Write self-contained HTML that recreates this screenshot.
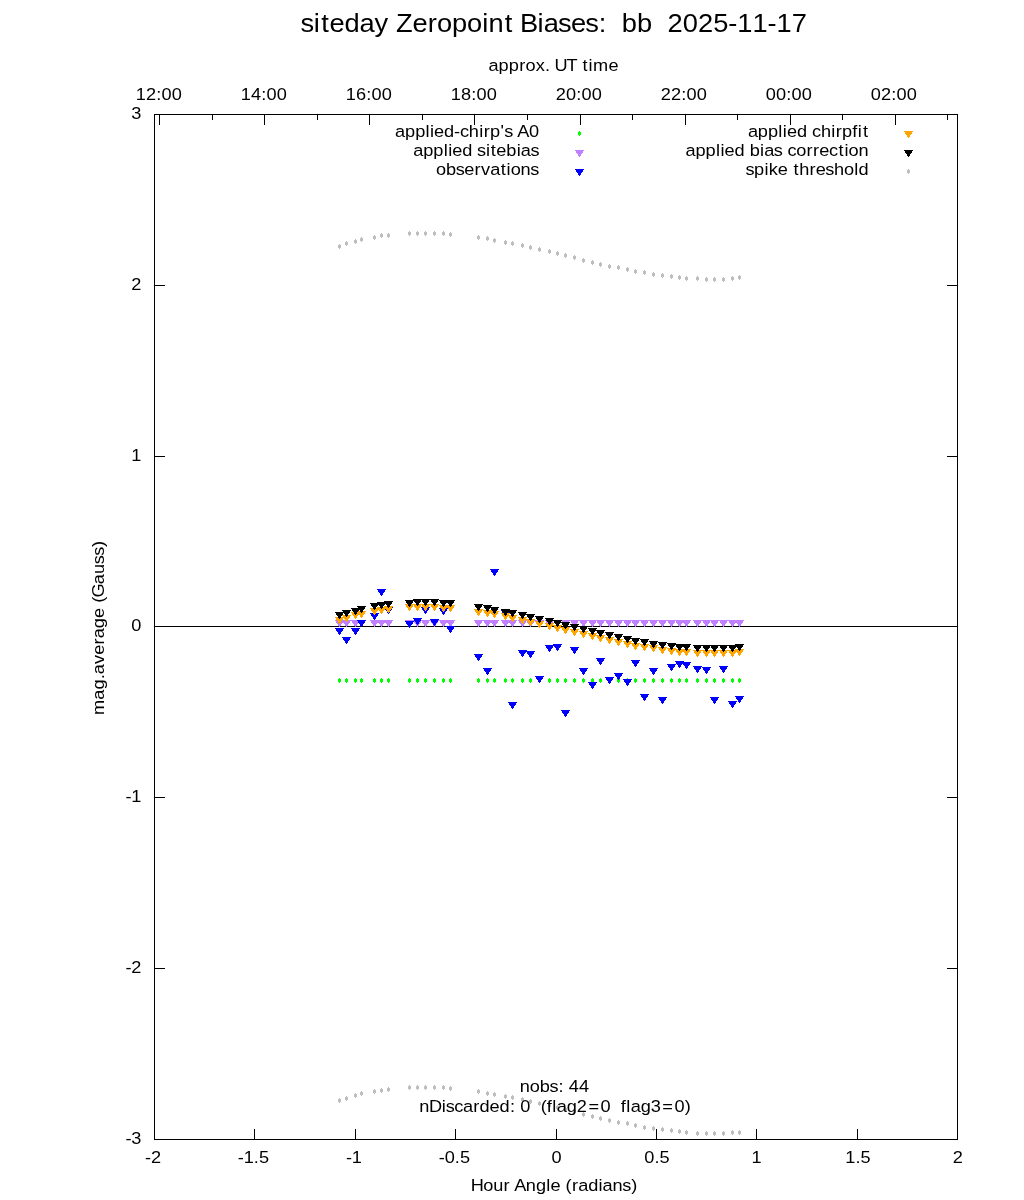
<!DOCTYPE html><html><head><meta charset="utf-8"><title>siteday Zeropoint Biases</title><style>html,body{margin:0;padding:0;background:#fff;width:1024px;height:1200px;overflow:hidden}svg{display:block;will-change:transform}text{font-family:"Liberation Sans",sans-serif;fill:#000}</style></head><body><svg width="1024" height="1200" viewBox="0 0 1024 1200"><defs><path id="t" d="M-4 0h9v1h-1v2h-1v1h-1v2h-1v1h-1v-1h-1v-2h-1v-1h-1v-2h-1z"/><path id="d" d="M-1 1h3v3h-3z M0 0h1v5h-1z"/></defs><rect width="1024" height="1200" fill="#fff"/><g shape-rendering="crispEdges" fill="none" stroke="#000" stroke-width="1"><path d="M155 626.5H957"/><path d="M154.5 114.5H957.5V1139.5H154.5Z"/><path d="M155 285.5h10M957 285.5h-10M155 456.5h10M957 456.5h-10M155 797.5h10M957 797.5h-10M155 968.5h10M957 968.5h-10M254.5 1139v-10M355.5 1139v-10M455.5 1139v-10M556.5 1139v-10M656.5 1139v-10M756.5 1139v-10M857.5 1139v-10M159.5 115v10M264.5 115v10M369.5 115v10M474.5 115v10M580.5 115v10M685.5 115v10M790.5 115v10M895.5 115v10M212.5 115v5M317.5 115v5M422.5 115v5M527.5 115v5M632.5 115v5M737.5 115v5M842.5 115v5M947.5 115v5"/></g><g><text x="-0.53 11.96 18.78 26.52 40.54 54.53 68.75 81.78 88.78 104.07 118.43 127.05 141.03 155.01 169.25 175.21 190.26 198.22 204.52 221.01 226.74 240.16 252.19 265.65 278.11 285.45 292.58 299.72 313.95 328.19 335.32 342.46 356.73 371.01 385.28 399.30 407.64 421.92 435.94 444.28 458.54" y="0" font-size="25.50" xml:space="preserve" transform="translate(301.06 32.00) scale(1.07 1)">siteday Zeropoint Biases:  bb  2025-11-17</text><text x="-0.59 8.81 18.38 28.15 33.96 43.52 52.26 57.05 61.19 72.25 82.08 87.43 92.96 97.19 111.53" y="0" font-size="17.00" xml:space="preserve" transform="translate(489.08 71.00) scale(1.07 1)">approx. UT time</text><text x="0.03 9.54 19.18 24.09 33.60" y="0" font-size="17.00" xml:space="preserve" transform="translate(135.85 100.00) scale(1.07 1)">12:00</text><text x="0.03 9.54 19.18 24.09 33.60" y="0" font-size="17.00" xml:space="preserve" transform="translate(240.85 100.00) scale(1.07 1)">14:00</text><text x="0.03 9.54 19.18 24.09 33.60" y="0" font-size="17.00" xml:space="preserve" transform="translate(345.85 100.00) scale(1.07 1)">16:00</text><text x="0.03 9.54 19.18 24.09 33.60" y="0" font-size="17.00" xml:space="preserve" transform="translate(450.85 100.00) scale(1.07 1)">18:00</text><text x="0.03 9.54 19.18 24.09 33.60" y="0" font-size="17.00" xml:space="preserve" transform="translate(555.85 100.00) scale(1.07 1)">20:00</text><text x="0.03 9.54 19.18 24.09 33.60" y="0" font-size="17.00" xml:space="preserve" transform="translate(660.85 100.00) scale(1.07 1)">22:00</text><text x="0.03 9.54 19.18 24.09 33.60" y="0" font-size="17.00" xml:space="preserve" transform="translate(765.85 100.00) scale(1.07 1)">00:00</text><text x="0.03 9.54 19.18 24.09 33.60" y="0" font-size="17.00" xml:space="preserve" transform="translate(870.85 100.00) scale(1.07 1)">02:00</text><text x="0.03" y="0" font-size="17.00" xml:space="preserve" transform="translate(131.31 119.00) scale(1.07 1)">3</text><text x="0.03" y="0" font-size="17.00" xml:space="preserve" transform="translate(131.31 290.00) scale(1.07 1)">2</text><text x="0.03" y="0" font-size="17.00" xml:space="preserve" transform="translate(131.31 461.00) scale(1.07 1)">1</text><text x="0.03" y="0" font-size="17.00" xml:space="preserve" transform="translate(131.31 631.00) scale(1.07 1)">0</text><text x="-0.13 5.42" y="0" font-size="17.00" xml:space="preserve" transform="translate(125.55 802.00) scale(1.07 1)">-1</text><text x="-0.13 5.42" y="0" font-size="17.00" xml:space="preserve" transform="translate(125.55 973.00) scale(1.07 1)">-2</text><text x="-0.13 5.42" y="0" font-size="17.00" xml:space="preserve" transform="translate(125.55 1144.00) scale(1.07 1)">-3</text><text x="-0.13 5.42" y="0" font-size="17.00" xml:space="preserve" transform="translate(145.22 1163.00) scale(1.07 1)">-2</text><text x="-0.13 5.42 14.92 19.68" y="0" font-size="17.00" xml:space="preserve" transform="translate(237.89 1163.00) scale(1.07 1)">-1.5</text><text x="-0.13 5.42" y="0" font-size="17.00" xml:space="preserve" transform="translate(346.02 1163.00) scale(1.07 1)">-1</text><text x="-0.13 5.42 14.92 19.68" y="0" font-size="17.00" xml:space="preserve" transform="translate(438.89 1163.00) scale(1.07 1)">-0.5</text><text x="0.03" y="0" font-size="17.00" xml:space="preserve" transform="translate(551.41 1163.00) scale(1.07 1)">0</text><text x="0.03 9.52 14.30" y="0" font-size="17.00" xml:space="preserve" transform="translate(644.27 1163.00) scale(1.07 1)">0.5</text><text x="0.03" y="0" font-size="17.00" xml:space="preserve" transform="translate(751.41 1163.00) scale(1.07 1)">1</text><text x="0.03 9.52 14.30" y="0" font-size="17.00" xml:space="preserve" transform="translate(845.27 1163.00) scale(1.07 1)">1.5</text><text x="0.03" y="0" font-size="17.00" xml:space="preserve" transform="translate(952.81 1163.00) scale(1.07 1)">2</text><text x="-0.52 11.09 20.40 30.11 36.03 40.22 51.01 60.49 70.15 73.99 83.34 88.15 94.15 99.91 109.24 118.89 122.72 132.04 141.15 149.39" y="0" font-size="17.00" xml:space="preserve" transform="translate(471.30 1191.00) scale(1.07 1)">Hour Angle (radians)</text><text x="-0.56 13.77 23.20 32.76 37.42 47.01 55.64 65.29 71.14 80.56 90.00 99.42 104.30 109.32 121.69 131.11 140.31 148.19 156.49" y="0" font-size="17.00" xml:space="preserve" transform="rotate(-90 103.8 628.0) translate(17.44 628.00) scale(1.07 1)">mag.average (Gauss)</text><text x="-0.15 9.18 18.67 28.33 32.49 36.32 45.67 55.00 60.40 68.77 78.43 82.63 88.56 98.46 101.79 109.94 114.14 124.94" y="0" font-size="17.00" xml:space="preserve" transform="translate(395.26 137.00) scale(1.07 1)">applied-chirp&#39;s A0</text><text x="-0.15 9.18 18.67 28.33 32.49 36.32 45.67 55.15 59.55 67.87 72.42 77.58 86.92 96.58 100.41 109.36" y="0" font-size="17.00" xml:space="preserve" transform="translate(413.37 156.00) scale(1.07 1)">applied sitebias</text><text x="-0.15 9.16 18.28 26.30 35.87 41.94 50.48 60.35 65.84 69.65 78.96 88.08" y="0" font-size="17.00" xml:space="preserve" transform="translate(436.13 175.00) scale(1.07 1)">observations</text><text x="-0.15 9.18 18.67 28.33 32.49 36.32 45.67 55.15 59.76 68.13 77.79 82.00 87.92 97.38 102.57 107.37" y="0" font-size="17.00" xml:space="preserve" transform="translate(748.04 137.00) scale(1.07 1)">applied chirpfit</text><text x="-0.15 9.18 18.67 28.33 32.49 36.32 45.67 55.15 59.92 69.58 73.39 82.35 90.51 95.11 103.32 112.86 119.01 124.79 133.98 142.90 148.39 152.20 161.51" y="0" font-size="17.00" xml:space="preserve" transform="translate(685.65 156.00) scale(1.07 1)">applied bias correction</text><text x="-0.35 7.81 17.46 21.52 29.96 39.31 44.61 49.92 59.63 65.41 74.38 82.53 91.84 101.34 105.32" y="0" font-size="17.00" xml:space="preserve" transform="translate(745.76 175.00) scale(1.07 1)">spike threshold</text></g><g fill="#00ff00" shape-rendering="crispEdges"><use href="#d" x="339" y="678"/><use href="#d" x="346" y="678"/><use href="#d" x="355" y="678"/><use href="#d" x="361" y="678"/><use href="#d" x="374" y="678"/><use href="#d" x="381" y="678"/><use href="#d" x="388" y="678"/><use href="#d" x="409" y="678"/><use href="#d" x="417" y="678"/><use href="#d" x="425" y="678"/><use href="#d" x="434" y="678"/><use href="#d" x="443" y="678"/><use href="#d" x="450" y="678"/><use href="#d" x="478" y="678"/><use href="#d" x="487" y="678"/><use href="#d" x="494" y="678"/><use href="#d" x="505" y="678"/><use href="#d" x="512" y="678"/><use href="#d" x="522" y="678"/><use href="#d" x="530" y="678"/><use href="#d" x="539" y="678"/><use href="#d" x="549" y="678"/><use href="#d" x="557" y="678"/><use href="#d" x="565" y="678"/><use href="#d" x="574" y="678"/><use href="#d" x="583" y="678"/><use href="#d" x="592" y="678"/><use href="#d" x="600" y="678"/><use href="#d" x="609" y="678"/><use href="#d" x="618" y="678"/><use href="#d" x="627" y="678"/><use href="#d" x="635" y="678"/><use href="#d" x="644" y="678"/><use href="#d" x="653" y="678"/><use href="#d" x="662" y="678"/><use href="#d" x="671" y="678"/><use href="#d" x="679" y="678"/><use href="#d" x="686" y="678"/><use href="#d" x="697" y="678"/><use href="#d" x="706" y="678"/><use href="#d" x="714" y="678"/><use href="#d" x="723" y="678"/><use href="#d" x="732" y="678"/><use href="#d" x="739" y="678"/><use href="#d" x="579" y="131"/></g><g fill="#c080ff" shape-rendering="crispEdges"><use href="#t" x="339" y="620"/><use href="#t" x="346" y="620"/><use href="#t" x="355" y="620"/><use href="#t" x="361" y="620"/><use href="#t" x="374" y="620"/><use href="#t" x="381" y="620"/><use href="#t" x="388" y="620"/><use href="#t" x="409" y="620"/><use href="#t" x="417" y="620"/><use href="#t" x="425" y="620"/><use href="#t" x="434" y="620"/><use href="#t" x="443" y="620"/><use href="#t" x="450" y="620"/><use href="#t" x="478" y="620"/><use href="#t" x="487" y="620"/><use href="#t" x="494" y="620"/><use href="#t" x="505" y="620"/><use href="#t" x="512" y="620"/><use href="#t" x="522" y="620"/><use href="#t" x="530" y="620"/><use href="#t" x="539" y="620"/><use href="#t" x="549" y="620"/><use href="#t" x="557" y="620"/><use href="#t" x="565" y="620"/><use href="#t" x="574" y="620"/><use href="#t" x="583" y="620"/><use href="#t" x="592" y="620"/><use href="#t" x="600" y="620"/><use href="#t" x="609" y="620"/><use href="#t" x="618" y="620"/><use href="#t" x="627" y="620"/><use href="#t" x="635" y="620"/><use href="#t" x="644" y="620"/><use href="#t" x="653" y="620"/><use href="#t" x="662" y="620"/><use href="#t" x="671" y="620"/><use href="#t" x="679" y="620"/><use href="#t" x="686" y="620"/><use href="#t" x="697" y="620"/><use href="#t" x="706" y="620"/><use href="#t" x="714" y="620"/><use href="#t" x="723" y="620"/><use href="#t" x="732" y="620"/><use href="#t" x="739" y="620"/><use href="#t" x="579" y="150"/></g><g fill="#0000ff" shape-rendering="crispEdges"><use href="#t" x="339" y="628"/><use href="#t" x="346" y="637"/><use href="#t" x="355" y="628"/><use href="#t" x="361" y="620"/><use href="#t" x="374" y="613"/><use href="#t" x="381" y="589"/><use href="#t" x="388" y="607"/><use href="#t" x="409" y="621"/><use href="#t" x="417" y="618"/><use href="#t" x="425" y="607"/><use href="#t" x="434" y="619"/><use href="#t" x="443" y="608"/><use href="#t" x="450" y="626"/><use href="#t" x="478" y="654"/><use href="#t" x="487" y="668"/><use href="#t" x="494" y="569"/><use href="#t" x="505" y="610"/><use href="#t" x="512" y="702"/><use href="#t" x="522" y="650"/><use href="#t" x="530" y="651"/><use href="#t" x="539" y="676"/><use href="#t" x="549" y="645"/><use href="#t" x="557" y="644"/><use href="#t" x="565" y="710"/><use href="#t" x="574" y="647"/><use href="#t" x="583" y="668"/><use href="#t" x="592" y="682"/><use href="#t" x="600" y="658"/><use href="#t" x="609" y="677"/><use href="#t" x="618" y="673"/><use href="#t" x="627" y="679"/><use href="#t" x="635" y="660"/><use href="#t" x="644" y="694"/><use href="#t" x="653" y="668"/><use href="#t" x="662" y="697"/><use href="#t" x="671" y="664"/><use href="#t" x="679" y="661"/><use href="#t" x="686" y="662"/><use href="#t" x="697" y="666"/><use href="#t" x="706" y="667"/><use href="#t" x="714" y="697"/><use href="#t" x="723" y="666"/><use href="#t" x="732" y="701"/><use href="#t" x="739" y="696"/><use href="#t" x="579" y="169"/></g><g fill="#ffa500" shape-rendering="crispEdges"><use href="#t" x="339" y="617"/><use href="#t" x="346" y="615"/><use href="#t" x="355" y="612"/><use href="#t" x="361" y="611"/><use href="#t" x="374" y="608"/><use href="#t" x="381" y="607"/><use href="#t" x="388" y="606"/><use href="#t" x="409" y="604"/><use href="#t" x="417" y="604"/><use href="#t" x="425" y="604"/><use href="#t" x="434" y="604"/><use href="#t" x="443" y="605"/><use href="#t" x="450" y="605"/><use href="#t" x="478" y="609"/><use href="#t" x="487" y="610"/><use href="#t" x="494" y="611"/><use href="#t" x="505" y="613"/><use href="#t" x="512" y="615"/><use href="#t" x="522" y="617"/><use href="#t" x="530" y="619"/><use href="#t" x="539" y="621"/><use href="#t" x="549" y="623"/><use href="#t" x="557" y="625"/><use href="#t" x="565" y="627"/><use href="#t" x="574" y="629"/><use href="#t" x="583" y="631"/><use href="#t" x="592" y="633"/><use href="#t" x="600" y="635"/><use href="#t" x="609" y="637"/><use href="#t" x="618" y="639"/><use href="#t" x="627" y="641"/><use href="#t" x="635" y="643"/><use href="#t" x="644" y="644"/><use href="#t" x="653" y="645"/><use href="#t" x="662" y="647"/><use href="#t" x="671" y="648"/><use href="#t" x="679" y="649"/><use href="#t" x="686" y="649"/><use href="#t" x="697" y="650"/><use href="#t" x="706" y="650"/><use href="#t" x="714" y="650"/><use href="#t" x="723" y="650"/><use href="#t" x="732" y="650"/><use href="#t" x="739" y="649"/><use href="#t" x="908" y="131"/></g><g fill="#000000" shape-rendering="crispEdges"><use href="#t" x="339" y="612"/><use href="#t" x="346" y="610"/><use href="#t" x="355" y="608"/><use href="#t" x="361" y="606"/><use href="#t" x="374" y="603"/><use href="#t" x="381" y="602"/><use href="#t" x="388" y="601"/><use href="#t" x="409" y="600"/><use href="#t" x="417" y="599"/><use href="#t" x="425" y="599"/><use href="#t" x="434" y="599"/><use href="#t" x="443" y="600"/><use href="#t" x="450" y="600"/><use href="#t" x="478" y="604"/><use href="#t" x="487" y="605"/><use href="#t" x="494" y="607"/><use href="#t" x="505" y="609"/><use href="#t" x="512" y="610"/><use href="#t" x="522" y="612"/><use href="#t" x="530" y="614"/><use href="#t" x="539" y="616"/><use href="#t" x="549" y="618"/><use href="#t" x="557" y="620"/><use href="#t" x="565" y="622"/><use href="#t" x="574" y="624"/><use href="#t" x="583" y="626"/><use href="#t" x="592" y="628"/><use href="#t" x="600" y="630"/><use href="#t" x="609" y="632"/><use href="#t" x="618" y="634"/><use href="#t" x="627" y="636"/><use href="#t" x="635" y="638"/><use href="#t" x="644" y="639"/><use href="#t" x="653" y="641"/><use href="#t" x="662" y="642"/><use href="#t" x="671" y="643"/><use href="#t" x="679" y="644"/><use href="#t" x="686" y="644"/><use href="#t" x="697" y="645"/><use href="#t" x="706" y="645"/><use href="#t" x="714" y="645"/><use href="#t" x="723" y="645"/><use href="#t" x="732" y="645"/><use href="#t" x="739" y="644"/><use href="#t" x="908" y="150"/></g><g fill="#bebebe" shape-rendering="crispEdges"><use href="#d" x="339" y="244"/><use href="#d" x="346" y="241"/><use href="#d" x="355" y="239"/><use href="#d" x="361" y="237"/><use href="#d" x="374" y="235"/><use href="#d" x="381" y="233"/><use href="#d" x="388" y="233"/><use href="#d" x="409" y="231"/><use href="#d" x="417" y="231"/><use href="#d" x="425" y="231"/><use href="#d" x="434" y="231"/><use href="#d" x="443" y="231"/><use href="#d" x="450" y="232"/><use href="#d" x="478" y="235"/><use href="#d" x="487" y="236"/><use href="#d" x="494" y="238"/><use href="#d" x="505" y="240"/><use href="#d" x="512" y="241"/><use href="#d" x="522" y="243"/><use href="#d" x="530" y="245"/><use href="#d" x="539" y="247"/><use href="#d" x="549" y="249"/><use href="#d" x="557" y="251"/><use href="#d" x="565" y="253"/><use href="#d" x="574" y="255"/><use href="#d" x="583" y="258"/><use href="#d" x="592" y="260"/><use href="#d" x="600" y="262"/><use href="#d" x="609" y="264"/><use href="#d" x="618" y="265"/><use href="#d" x="627" y="267"/><use href="#d" x="635" y="269"/><use href="#d" x="644" y="270"/><use href="#d" x="653" y="272"/><use href="#d" x="662" y="273"/><use href="#d" x="671" y="274"/><use href="#d" x="679" y="275"/><use href="#d" x="686" y="276"/><use href="#d" x="697" y="276"/><use href="#d" x="706" y="277"/><use href="#d" x="714" y="277"/><use href="#d" x="723" y="277"/><use href="#d" x="732" y="276"/><use href="#d" x="739" y="275"/><use href="#d" x="339" y="1098"/><use href="#d" x="346" y="1096"/><use href="#d" x="355" y="1093"/><use href="#d" x="361" y="1091"/><use href="#d" x="374" y="1089"/><use href="#d" x="381" y="1088"/><use href="#d" x="388" y="1087"/><use href="#d" x="409" y="1085"/><use href="#d" x="417" y="1085"/><use href="#d" x="425" y="1085"/><use href="#d" x="434" y="1085"/><use href="#d" x="443" y="1085"/><use href="#d" x="450" y="1086"/><use href="#d" x="478" y="1089"/><use href="#d" x="487" y="1091"/><use href="#d" x="494" y="1092"/><use href="#d" x="505" y="1094"/><use href="#d" x="512" y="1095"/><use href="#d" x="522" y="1097"/><use href="#d" x="530" y="1099"/><use href="#d" x="539" y="1101"/><use href="#d" x="549" y="1103"/><use href="#d" x="557" y="1105"/><use href="#d" x="565" y="1107"/><use href="#d" x="574" y="1109"/><use href="#d" x="583" y="1112"/><use href="#d" x="592" y="1114"/><use href="#d" x="600" y="1116"/><use href="#d" x="609" y="1118"/><use href="#d" x="618" y="1120"/><use href="#d" x="627" y="1121"/><use href="#d" x="635" y="1123"/><use href="#d" x="644" y="1125"/><use href="#d" x="653" y="1126"/><use href="#d" x="662" y="1127"/><use href="#d" x="671" y="1128"/><use href="#d" x="679" y="1129"/><use href="#d" x="686" y="1130"/><use href="#d" x="697" y="1131"/><use href="#d" x="706" y="1131"/><use href="#d" x="714" y="1131"/><use href="#d" x="723" y="1131"/><use href="#d" x="732" y="1130"/><use href="#d" x="739" y="1130"/><use href="#d" x="908" y="169"/></g><g><text x="0.01 9.32 18.64 27.75 36.06 40.96 45.72 55.24" y="0" font-size="17.00" xml:space="preserve" transform="translate(519.87 1092.00) scale(1.07 1)">nobs: 44</text><text x="0.01 9.10 21.17 24.79 32.79 41.00 50.56 56.48 65.83 75.18 84.81 89.70 94.47 103.97 108.72 113.55 119.28 124.47 128.56 137.89 147.40 158.18 169.44 178.94 183.69 188.43 193.60 197.71 207.03 216.53 227.31 238.58 248.15" y="0" font-size="17.00" xml:space="preserve" transform="translate(419.16 1112.00) scale(1.07 1)">nDiscarded: 0  (flag2=0  flag3=0)</text></g></svg></body></html>
